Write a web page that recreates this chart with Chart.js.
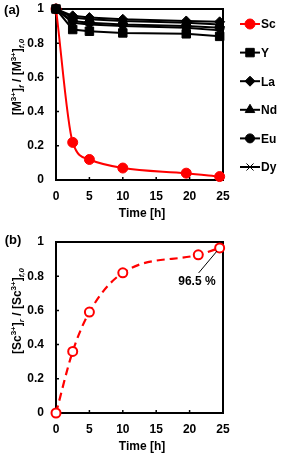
<!DOCTYPE html>
<html>
<head>
<meta charset="utf-8">
<script src="https://cdn.jsdelivr.net/npm/chart.js@4/dist/chart.umd.min.js"></script>
<style>
  html, body { margin: 0; padding: 0; background: #fff; }
  body {
    width: 281px; height: 456px; position: relative; overflow: hidden;
    font-family: "Liberation Sans", Arial, sans-serif; font-weight: bold; color: #000;
  }
  .box { position: absolute; left: 0; width: 281px; }
  #boxA { top: 0; height: 225px; }
  #boxB { top: 230px; height: 226px; }
  .lbl {
    position: absolute; white-space: nowrap; line-height: 1;
    transform: translate(-50%, -50%);
  }
  .panel { font-size: 13px; }
  .xtitle { font-size: 12px; }
  .ytitle {
    position: absolute; white-space: nowrap; line-height: 1; font-size: 12px;
    transform: translate(-50%, -50%) rotate(-90deg);
  }
  .ytitle sup { font-size: 8px; vertical-align: 5px; line-height: 0; }
  .ytitle sub { font-size: 8px; vertical-align: -3px; line-height: 0; font-style: italic; }
</style>
</head>
<body>
<div class="box" id="boxA"><canvas id="chartA"></canvas></div>
<div class="box" id="boxB"><canvas id="chartB"></canvas></div>

<div class="lbl panel" style="left:12px; top:9px;">(a)</div>
<div class="lbl panel" style="left:13px; top:239px;">(b)</div>
<div class="lbl xtitle" style="left:142px; top:213px;">Time [h]</div>
<div class="lbl xtitle" style="left:142px; top:446px;">Time [h]</div>
<div class="ytitle" style="left:17px; top:77px;">[M<sup>3+</sup>]<sub>f</sub> / [M<sup>3+</sup>]<sub>f,0</sub></div>
<div class="ytitle" style="left:17px; top:311px;">[Sc<sup>3+</sup>]<sub>r</sub> / [Sc<sup>3+</sup>]<sub>f,0</sub></div>

<script>
// panel (a): remaining fraction in feed
const timeA = [0, 2.5, 5, 10, 19.5, 24.5];
const scA = [1, 0.22, 0.12, 0.07, 0.04, 0.02];
const yA = [1, 0.88, 0.87, 0.86, 0.855, 0.84];
const laA = [1, 0.96, 0.95, 0.94, 0.93, 0.925];
const ndA = [1, 0.95, 0.94, 0.93, 0.92, 0.91];
const euA = [1, 0.93, 0.92, 0.91, 0.9, 0.89];
const dyA = [1, 0.92, 0.91, 0.9, 0.89, 0.875];
const metals = ["Sc", "Y", "La", "Nd", "Eu", "Dy"];

// panel (b): Sc recovery
const timeB = [0, 2.5, 5, 10, 21.3, 24.5];
const recB = [0, 0.36, 0.59, 0.82, 0.925, 0.965];
const noteB = "96.5 %";

const xTicks = [0, 5, 10, 15, 20, 25];
const yTicks = [0, 0.2, 0.4, 0.6, 0.8, 1];

const FONT = "'Liberation Sans', Arial, sans-serif";
const RED = "#ff0000";

Chart.defaults.font.family = FONT;
Chart.defaults.color = "#000";
Chart.defaults.animation = false;

function pts(xs, ys) {
  return xs.map((x, i) => ({ x: x, y: ys[i] }));
}

function scales(xHeight) {
  return {
    x: {
      type: "linear", min: 0, max: 25,
      grid: { display: false, drawTicks: false }, border: { display: false },
      afterBuildTicks: (s) => { s.ticks = xTicks.map((v) => ({ value: v })); },
      afterFit: (s) => { s.height = xHeight; s.paddingLeft = 0; s.paddingRight = 0; },
      ticks: { padding: 9, font: { size: 12, weight: "bold" }, maxRotation: 0 },
    },
    y: {
      type: "linear", min: 0, max: 1,
      grid: { display: false, drawTicks: false }, border: { display: false },
      afterBuildTicks: (s) => { s.ticks = yTicks.map((v) => ({ value: v })); },
      afterFit: (s) => { s.width = 56; s.paddingTop = 0; s.paddingBottom = 0; },
      ticks: {
        padding: 12, font: { size: 12, weight: "bold" },
        callback: (v) => String(+Number(v).toFixed(1)),
      },
    },
  };
}

// frame and inward tick marks
const framePlugin = {
  id: "frame",
  beforeDatasetsDraw(chart) {
    const { ctx, chartArea: a, scales: s } = chart;
    ctx.save();
    ctx.strokeStyle = "#000";
    ctx.lineWidth = 1.5;
    ctx.beginPath();
    xTicks.forEach((v) => {
      const px = s.x.getPixelForValue(v);
      ctx.moveTo(px, a.bottom); ctx.lineTo(px, a.bottom - 3);
    });
    yTicks.forEach((v) => {
      const py = s.y.getPixelForValue(v);
      ctx.moveTo(a.left, py); ctx.lineTo(a.left + 3, py);
    });
    ctx.stroke();
    ctx.lineWidth = 2;
    ctx.strokeRect(a.left, a.top, a.right - a.left, a.bottom - a.top);
    ctx.restore();
  },
};

function drawMarker(ctx, ds, x, y) {
  const r = ds.pointRadius;
  ctx.fillStyle = ds.pointBackgroundColor || ds.borderColor;
  ctx.strokeStyle = ds.borderColor;
  ctx.lineWidth = ds.pointBorderWidth;
  if (Chart.helpers && Chart.helpers.drawPoint) {
    Chart.helpers.drawPoint(ctx, { pointStyle: ds.pointStyle, rotation: 0, radius: r, borderWidth: ds.pointBorderWidth }, x, y);
  } else {
    ctx.beginPath(); ctx.arc(x, y, r, 0, Math.PI * 2); ctx.fill(); ctx.stroke();
  }
}

const legendPlugin = {
  id: "sideLegend",
  afterDraw(chart) {
    const ctx = chart.ctx;
    ctx.save();
    chart.data.datasets.forEach((ds, i) => {
      const y = 24 + i * 28.6;
      ctx.strokeStyle = ds.borderColor;
      ctx.lineWidth = 2;
      ctx.beginPath(); ctx.moveTo(240, y); ctx.lineTo(260, y); ctx.stroke();
      drawMarker(ctx, ds, 250, y);
      ctx.fillStyle = "#000";
      ctx.font = "bold 12px " + FONT;
      ctx.textBaseline = "middle";
      ctx.textAlign = "left";
      ctx.fillText(ds.label, 261, y + 1);
    });
    ctx.restore();
  },
};

const notePlugin = {
  id: "note",
  afterDatasetsDraw(chart) {
    const { ctx, scales: s } = chart;
    ctx.save();
    ctx.strokeStyle = "#000";
    ctx.lineWidth = 1;
    ctx.beginPath();
    ctx.moveTo(s.x.getPixelForValue(21.35), s.y.getPixelForValue(0.819));
    ctx.lineTo(s.x.getPixelForValue(24.1), s.y.getPixelForValue(0.947));
    ctx.stroke();
    ctx.fillStyle = "#000";
    ctx.font = "bold 12px " + FONT;
    ctx.textAlign = "center";
    ctx.textBaseline = "middle";
    ctx.fillText(noteB, s.x.getPixelForValue(21.1), s.y.getPixelForValue(0.766));
    ctx.restore();
  },
};

function blackSeries(label, data, style, radius) {
  return {
    label: label, data: pts(timeA, data), order: 0, clip: false,
    borderColor: "#000", backgroundColor: "#000", pointBackgroundColor: "#000",
    borderWidth: 2, pointStyle: style, pointRadius: radius, pointBorderWidth: 1,
    tension: 0,
  };
}

new Chart(document.getElementById("chartA"), {
  type: "line",
  data: {
    datasets: [
      {
        label: metals[0], data: pts(timeA, scA), order: 1, clip: false,
        borderColor: RED, backgroundColor: RED, pointBackgroundColor: RED,
        borderWidth: 2, pointStyle: "circle", pointRadius: 5, pointBorderWidth: 1,
        cubicInterpolationMode: "monotone",
      },
      blackSeries(metals[1], yA, "rect", 6),
      blackSeries(metals[2], laA, "rectRot", 5),
      blackSeries(metals[3], ndA, "triangle", 5.5),
      blackSeries(metals[4], euA, "circle", 4.5),
      blackSeries(metals[5], dyA, "crossRot", 5),
    ],
  },
  options: {
    responsive: true, maintainAspectRatio: false,
    layout: { padding: { left: 0, top: 9, right: 58, bottom: 0 } },
    plugins: { legend: { display: false }, tooltip: { enabled: false } },
    scales: scales(45),
  },
  plugins: [framePlugin, legendPlugin],
});

new Chart(document.getElementById("chartB"), {
  type: "line",
  data: {
    datasets: [
      {
        label: "Sc", data: pts(timeB, recB), clip: false,
        borderColor: RED, backgroundColor: "#fff", pointBackgroundColor: "#fff",
        borderWidth: 2.2, borderDash: [8, 5],
        pointStyle: "circle", pointRadius: 4.5, pointBorderWidth: 2,
        cubicInterpolationMode: "monotone",
      },
    ],
  },
  options: {
    responsive: true, maintainAspectRatio: false,
    layout: { padding: { left: 0, top: 12, right: 58, bottom: 0 } },
    plugins: { legend: { display: false }, tooltip: { enabled: false } },
    scales: scales(43),
  },
  plugins: [framePlugin, notePlugin],
});
</script>
</body>
</html>
